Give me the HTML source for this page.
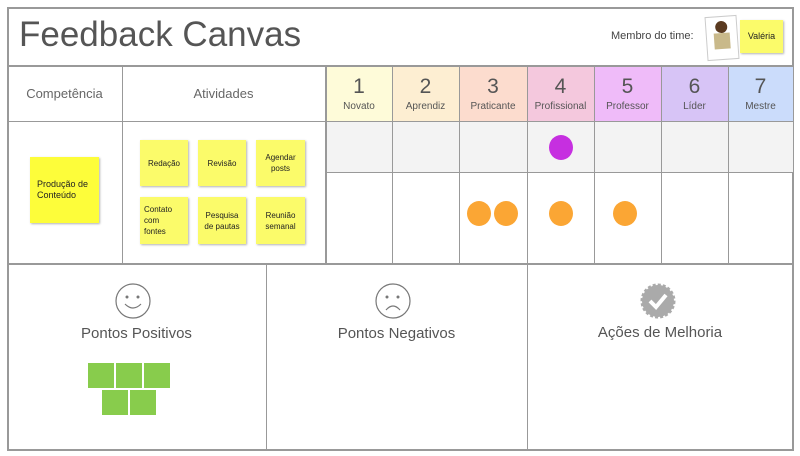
<!DOCTYPE html><html><head><meta charset="utf-8"><style>
*{margin:0;padding:0;box-sizing:border-box}
body{width:800px;height:456px;background:#fff;position:relative;font-family:"Liberation Sans",sans-serif;color:#555;overflow:hidden}
.a{position:absolute}
.l{position:absolute;background:#999}
.c{position:absolute;text-align:center}
.n{position:absolute;background:#fbfb6a;box-shadow:1px 1px 2px rgba(0,0,0,.3);font-size:8px;color:#222;display:flex;align-items:center;justify-content:center;text-align:center;line-height:11px}
.d{position:absolute;width:24px;height:25px;border-radius:50%;background:#fba634}
.g{position:absolute;width:26px;height:25px;background:#88cc4c}
</style></head><body>
<div class="a" style="left:7px;top:7px;width:787px;height:444px;border:2px solid #999"></div>
<div class="l" style="left:7px;top:65px;width:787px;height:2px"></div>
<div class="l" style="left:7px;top:121px;width:787px;height:1px"></div>
<div class="l" style="left:325px;top:172px;width:469px;height:1px"></div>
<div class="l" style="left:7px;top:263px;width:787px;height:2px"></div>
<div class="a" style="left:326px;top:122px;width:467px;height:50px;background:#f3f3f3"></div>
<div class="a" style="left:327px;top:67px;width:65px;height:54px;background:#fefbd9"></div>
<div class="a" style="left:393px;top:67px;width:66px;height:54px;background:#fdeed2"></div>
<div class="a" style="left:460px;top:67px;width:67px;height:54px;background:#fcdcce"></div>
<div class="a" style="left:528px;top:67px;width:66px;height:54px;background:#f4c8dd"></div>
<div class="a" style="left:595px;top:67px;width:66px;height:54px;background:#efbbf9"></div>
<div class="a" style="left:662px;top:67px;width:66px;height:54px;background:#d7c4f6"></div>
<div class="a" style="left:729px;top:67px;width:64px;height:54px;background:#cbdcfb"></div>
<div class="l" style="left:122px;top:66px;width:1px;height:198px"></div>
<div class="l" style="left:325px;top:66px;width:2px;height:198px"></div>
<div class="l" style="left:392px;top:66px;width:1px;height:198px"></div>
<div class="l" style="left:459px;top:66px;width:1px;height:198px"></div>
<div class="l" style="left:527px;top:66px;width:1px;height:198px"></div>
<div class="l" style="left:594px;top:66px;width:1px;height:198px"></div>
<div class="l" style="left:661px;top:66px;width:1px;height:198px"></div>
<div class="l" style="left:728px;top:66px;width:1px;height:198px"></div>
<div class="l" style="left:266px;top:264px;width:1px;height:186px"></div>
<div class="l" style="left:527px;top:264px;width:1px;height:186px"></div>
<div class="a" style="left:19px;top:15px;font-size:35px;color:#555">Feedback Canvas</div>
<div class="a" style="left:611px;top:30px;font-size:11px;color:#444">Membro do time:</div>
<div class="a" style="left:706px;top:16px;width:32px;height:44px;background:#fff;border:1px solid #ccc;transform:rotate(-4deg)"><div class="a" style="left:9px;top:4px;width:12px;height:12px;border-radius:50%;background:#5a3a20"></div><div class="a" style="left:7px;top:16px;width:16px;height:16px;background:#c9b98a"></div></div>
<div class="n" style="left:740px;top:20px;width:43px;height:33px;font-size:9px">Valéria</div>
<div class="c" style="left:7px;top:86px;width:115px;font-size:13px;color:#666">Competência</div>
<div class="c" style="left:122px;top:86px;width:203px;font-size:13px;color:#666">Atividades</div>
<div class="c" style="left:326px;top:75px;width:66px;font-size:21px;color:#555">1</div><div class="c" style="left:326px;top:101px;width:66px;font-size:10px">Novato</div>
<div class="c" style="left:392px;top:75px;width:67px;font-size:21px;color:#555">2</div><div class="c" style="left:392px;top:101px;width:67px;font-size:10px">Aprendiz</div>
<div class="c" style="left:459px;top:75px;width:68px;font-size:21px;color:#555">3</div><div class="c" style="left:459px;top:101px;width:68px;font-size:10px">Praticante</div>
<div class="c" style="left:527px;top:75px;width:67px;font-size:21px;color:#555">4</div><div class="c" style="left:527px;top:101px;width:67px;font-size:10px">Profissional</div>
<div class="c" style="left:594px;top:75px;width:67px;font-size:21px;color:#555">5</div><div class="c" style="left:594px;top:101px;width:67px;font-size:10px">Professor</div>
<div class="c" style="left:661px;top:75px;width:67px;font-size:21px;color:#555">6</div><div class="c" style="left:661px;top:101px;width:67px;font-size:10px">Líder</div>
<div class="c" style="left:728px;top:75px;width:65px;font-size:21px;color:#555">7</div><div class="c" style="left:728px;top:101px;width:65px;font-size:10px">Mestre</div>
<div class="n" style="left:30px;top:157px;width:69px;height:66px;font-size:9px;justify-content:flex-start;text-align:left;padding-left:7px;background:#fdfd3a">Produção de<br>Conteúdo</div>
<div class="n" style="left:140px;top:140px;width:48px;height:46px">Redação</div>
<div class="n" style="left:198px;top:140px;width:48px;height:46px">Revisão</div>
<div class="n" style="left:256px;top:140px;width:49px;height:46px">Agendar<br>posts</div>
<div class="n" style="left:140px;top:197px;width:48px;height:47px;justify-content:flex-start;text-align:left;padding-left:4px">Contato<br>com<br>fontes</div>
<div class="n" style="left:198px;top:197px;width:48px;height:47px">Pesquisa<br>de pautas</div>
<div class="n" style="left:256px;top:197px;width:49px;height:47px">Reunião<br>semanal</div>
<div class="d" style="left:549px;top:135px;background:#c62fe0"></div>
<div class="d" style="left:467px;top:201px"></div>
<div class="d" style="left:494px;top:201px"></div>
<div class="d" style="left:549px;top:201px"></div>
<div class="d" style="left:613px;top:201px"></div>
<svg class="a" style="left:114px;top:282px" width="38" height="38"><circle cx="19" cy="19" r="17" fill="none" stroke="#777" stroke-width="1.2"/><circle cx="13" cy="15" r="1.5" fill="#777"/><circle cx="24" cy="15" r="1.5" fill="#777"/><path d="M11 22 Q19 30 27 22" fill="none" stroke="#777" stroke-width="1.2"/></svg>
<svg class="a" style="left:374px;top:282px" width="38" height="38"><circle cx="19" cy="19" r="17" fill="none" stroke="#777" stroke-width="1.2"/><circle cx="13" cy="15" r="1.5" fill="#777"/><circle cx="24" cy="15" r="1.5" fill="#777"/><path d="M12 28 Q19 20 26 28" fill="none" stroke="#777" stroke-width="1.2"/></svg>
<svg class="a" style="left:639px;top:282px" width="38" height="38"><circle cx="19" cy="19" r="16" fill="#aaa" stroke="#aaa" stroke-width="3" stroke-dasharray="3 2"/><path d="M11 19 L17 25 L27 13" fill="none" stroke="#fff" stroke-width="4"/></svg>
<div class="c" style="left:7px;top:325px;width:259px;font-size:15px;color:#555">Pontos Positivos</div>
<div class="c" style="left:266px;top:325px;width:261px;font-size:15px;color:#555">Pontos Negativos</div>
<div class="c" style="left:527px;top:324px;width:266px;font-size:15px;color:#555">Ações de Melhoria</div>
<div class="g" style="left:88px;top:363px"></div><div class="g" style="left:116px;top:363px"></div><div class="g" style="left:144px;top:363px"></div>
<div class="g" style="left:102px;top:390px"></div><div class="g" style="left:130px;top:390px"></div>
</body></html>
